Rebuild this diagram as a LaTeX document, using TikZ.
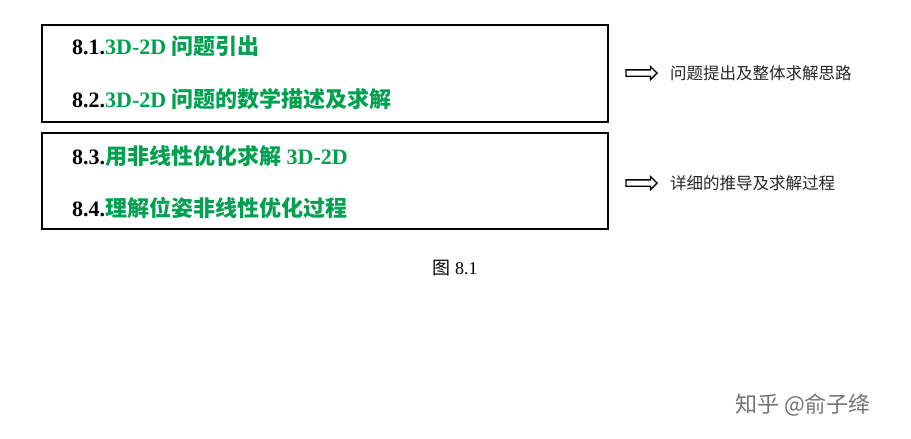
\documentclass[tikz,border=0pt]{standalone}
\usepackage{fontspec}
\setmainfont{Liberation Serif}
\newfontfamily\cjk{Noto Sans CJK SC}
\usetikzlibrary{shapes.arrows}
\definecolor{tgreen}{RGB}{0,160,80}
\begin{document}
\begin{tikzpicture}[x=1pt,y=-1pt,
  box/.style={draw,line width=1.4pt},
  item/.style={anchor=west,font=\fontsize{22}{22}\selectfont\bfseries,inner sep=0},
  note/.style={anchor=west,font=\fontsize{16.5}{16.5}\selectfont\cjk,inner sep=0,text=black!85},
  arr/.style={single arrow,draw,line width=1.3pt,fill=white,inner xsep=0pt,inner ysep=2.5pt,single arrow head extend=3.5pt,minimum height=31pt,minimum width=0pt}]
\useasboundingbox (0,0) rectangle (911,439);
\draw[box] (42,25) rectangle (608,122);
\draw[box] (42,133) rectangle (608,229);
\node[item] (a) at (72,46) {8.1.\textcolor{tgreen}{3D-2D {\cjk 问题引出}}};
\node[item] (b) at (72,99) {8.2.\textcolor{tgreen}{3D-2D {\cjk 问题的数学描述及求解}}};
\node[item] (c) at (72,156) {8.3.\textcolor{tgreen}{{\cjk 用非线性优化求解} 3D-2D}};
\node[item] (d) at (72,208) {8.4.\textcolor{tgreen}{\cjk 理解位姿非线性优化过程}};
\node[arr] (r1) at (640,73) {};
\node[arr] (r2) at (640,183) {};
\node[note] (n1) at (670,73) {问题提出及整体求解思路};
\node[note] (n2) at (670,183) {详细的推导及求解过程};
\node[font=\fontsize{18}{18}\selectfont] (cap) at (455,268) {{\cjk 图} 8.1};
\node[font=\fontsize{22}{22}\selectfont\cjk,text=black!55] (wm) at (803,405) {知乎 @俞子绛};
\end{tikzpicture}
\end{document}
